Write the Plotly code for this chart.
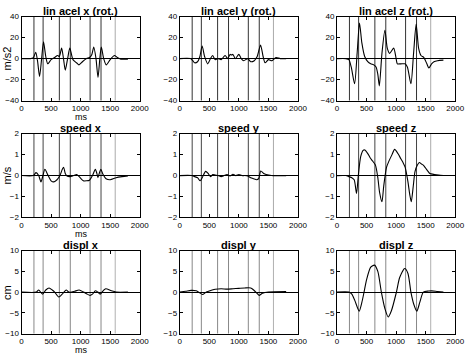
import plotly.graph_objects as go

W, H = 474, 358

# vertical event markers (ms)
event_ms = [210, 365, 640, 825, 1160, 1345, 1585]

titles = ["lin acel x (rot.)", "lin acel y (rot.)", "lin acel z (rot.)",
          "speed x", "speed y", "speed z",
          "displ x", "displ y", "displ z"]
row_units = ["m/s2", "m/s", "cm"]
x_ticks = [0, 500, 1000, 1500, 2000]
y_ticks_rows = [[-40, -20, 0, 20, 40], [-2, -1, 0, 1, 2], [-10, -5, 0, 5, 10]]

# --- acceleration ---
acx_t = [0, 150, 200, 240, 270, 305, 340, 372, 410, 445, 500, 560, 610, 640, 678, 710, 740, 780, 817, 870, 930, 972, 1030, 1100, 1150, 1190, 1222, 1260, 1294, 1325, 1350, 1390, 1433, 1500, 1572, 1620, 1680, 1750, 1800]
acx_v = [0, 0, 1, 6, -2, -17, 0, 16, 2, -5, -1, 1, 3, 2, 10, 0, -11, 0, 10, -1, -4, -6, -3, 0, 1, 4, 11, 0, -18, 0, 11, 0, -6, -1, 3, 1, -0.5, -0.5, -0.5]

acy_t = [0, 180, 220, 250, 300, 340, 378, 420, 472, 520, 555, 600, 650, 700, 767, 810, 850, 875, 900, 940, 1000, 1040, 1083, 1150, 1200, 1260, 1310, 1367, 1410, 1444, 1500, 1560, 1628, 1700, 1800]
acy_v = [0, 0, -2, -4, -3, 2, 12, 2, -5, 0, 3, -1, 0, -1, 3, 0, 4, 3.5, 4, 0, 4, 0, -2, 0, -3, -2, 2, 13, 2, -4, -1, -2, 1, 0, 0]

acz_t = [0, 150, 200, 240, 297, 340, 380, 420, 468, 520, 570, 620, 660, 690, 716, 760, 810, 850, 890, 958, 1000, 1020, 1080, 1150, 1190, 1250, 1295, 1339, 1380, 1420, 1470, 1520, 1554, 1600, 1640, 1700, 1800]
acz_v = [0, 0, -1, -8, -24, 5, 34, 15, 2, -3, -5, -6, -8, -15, -26, 5, 27, 10, 5, 10, 0, -5, -5, -5, -8, -24, 5, 33, 10, 3, 1, -5, -9, -5, -3, -2, -1.5]

# --- speed ---
spx_t = [0, 200, 246, 290, 329, 362, 395, 450, 500, 548, 600, 650, 690, 712, 740, 770, 820, 880, 935, 990, 1045, 1100, 1150, 1200, 1249, 1275, 1293, 1320, 1342, 1380, 1430, 1500, 1600, 1700, 1800]
spx_v = [0, 0, 0.14, 0, -0.3, 0, 0.3, 0, -0.25, -0.3, -0.2, 0, 0.3, 0.4, 0.1, -0.02, -0.05, 0.0, 0.05, -0.1, -0.25, -0.25, -0.22, 0, 0.3, 0.1, -0.1, 0.15, 0.3, 0.05, -0.15, -0.2, -0.1, -0.05, -0.02]

spy_t = [0, 200, 250, 300, 345, 380, 438, 480, 520, 560, 600, 650, 700, 750, 800, 850, 900, 950, 1000, 1050, 1100, 1150, 1200, 1250, 1300, 1335, 1370, 1420, 1460, 1550, 1650, 1800]
spy_v = [0, 0, -0.05, -0.1, -0.25, -0.1, 0.2, 0.1, -0.05, 0.05, 0.02, 0, -0.05, 0, 0.05, -0.02, 0.06, 0, 0.05, 0, 0, -0.02, -0.1, -0.15, -0.2, -0.15, 0.22, 0.1, 0.05, 0, 0, 0]

spz_t = [0, 150, 200, 250, 290, 330, 360, 400, 441, 470, 520, 560, 600, 650, 690, 720, 760, 790, 838, 880, 930, 975, 1030, 1080, 1120, 1152, 1200, 1230, 1256, 1290, 1320, 1360, 1394, 1430, 1460, 1500, 1540, 1570, 1650, 1720, 1800]
spz_v = [0, 0, -0.05, -0.1, -0.2, -0.85, 0, 0.9, 1.2, 1.22, 1.05, 0.85, 0.7, 0.5, -0.1, -0.8, -1.25, -0.5, 0.4, 0.7, 1.0, 1.25, 1.05, 0.8, 0.6, 0.4, -0.3, -0.9, -1.25, -0.5, 0.2, 0.5, 0.62, 0.55, 0.5, 0.35, 0.2, 0.1, 0.05, 0.02, 0]

# --- displacement ---
dpx_t = [0, 250, 290, 356, 410, 466, 520, 560, 630, 700, 756, 800, 850, 900, 975, 1050, 1100, 1160, 1200, 1250, 1290, 1330, 1380, 1425, 1520, 1600, 1800]
dpx_v = [0, 0, 0.5, -0.5, 0.5, 1.0, 0.5, 0, -1.2, -0.3, 0.5, 0, 0, 0.2, 0.5, 0, -0.4, -0.8, -0.5, 0.3, 0, -0.5, 0.3, 0.8, 0.3, 0, 0]

dpy_t = [0, 100, 192, 280, 330, 384, 450, 548, 600, 700, 800, 900, 1000, 1100, 1200, 1250, 1300, 1342, 1400, 1500, 1800]
dpy_v = [0, 0.2, 0.4, 0.3, -0.1, -0.6, 0, 0.5, 0.7, 0.8, 0.7, 0.8, 0.9, 1.0, 1.0, 0.5, -0.2, -0.8, -0.3, 0, 0.1]

dpz_t = [0, 200, 250, 300, 375, 420, 457, 500, 570, 634, 690, 750, 810, 865, 920, 1005, 1060, 1146, 1200, 1250, 1300, 1350, 1400, 1460, 1550, 1600, 1700, 1800]
dpz_v = [0, 0, -0.5, -2, -4.6, -2.5, 0, 3, 6, 6.5, 5, 0, -4, -6, -4.5, 0, 3.5, 5.7, 4.5, 0, -3, -4.6, -2.5, 0, 0.25, 0.3, 0.15, 0]

series = [(acx_t, acx_v), (acy_t, acy_v), (acz_t, acz_v),
          (spx_t, spx_v), (spy_t, spy_v), (spz_t, spz_v),
          (dpx_t, dpx_v), (dpy_t, dpy_v), (dpz_t, dpz_v)]

col_px = [(20, 141), (182, 303), (343, 464)]
row_px = [(13, 99), (133, 219), (253, 338)]

fig = go.Figure()
layout = dict(width=W, height=H, margin=dict(l=0, r=0, t=0, b=0),
              paper_bgcolor="white", plot_bgcolor="white", showlegend=False,
              font=dict(family="Liberation Sans, Arial, sans-serif", size=8, color="black"))
shapes = []
annotations = []
line_colors_by_row = [("#333333", "#aaaaaa"), ("#444444", "#aaaaaa"), ("#888888", "#b0b0b0")]

for r in range(3):
    for c in range(3):
        i = r * 3 + c
        n = "" if i == 0 else str(i + 1)
        x0, x1 = col_px[c]
        y0, y1 = row_px[r]
        xd = [x0 / W, x1 / W]
        yd = [1 - y1 / H, 1 - y0 / H]
        t, v = series[i]
        fig.add_trace(go.Scatter(x=t, y=v, mode="lines", xaxis="x" + n, yaxis="y" + n,
                                 line=dict(color="black", width=1.1, shape="spline", smoothing=0.7),
                                 hoverinfo="skip"))
        yt = y_ticks_rows[r]
        layout["xaxis" + n] = dict(domain=xd, anchor="y" + n, range=[0, 2000], tickvals=x_ticks,
                                   ticks="inside", ticklen=3, tickcolor="black", showline=True,
                                   linecolor="black", linewidth=1, mirror="ticks", showgrid=False,
                                   zeroline=False, tickfont=dict(size=8))
        layout["yaxis" + n] = dict(domain=yd, anchor="x" + n, range=[yt[0], yt[-1]], tickvals=yt,
                                   ticks="inside", ticklen=3, tickcolor="black", showline=True,
                                   linecolor="black", linewidth=1, mirror="ticks", showgrid=False,
                                   zeroline=True, zerolinecolor="black", zerolinewidth=1,
                                   tickfont=dict(size=8))
        dark, light = line_colors_by_row[r]
        for k, e in enumerate(event_ms):
            shapes.append(dict(type="line", xref="x" + n, yref="y" + n + " domain",
                               x0=e, x1=e, y0=0, y1=1, layer="below",
                               line=dict(color=light if k == len(event_ms) - 1 else dark, width=1)))
        annotations.append(dict(text="<b>" + titles[i] + "</b>", xref="paper", yref="paper",
                                x=(x0 + x1) / 2 / W, y=1 - (y0 + 1) / H, showarrow=False,
                                xanchor="center", yanchor="bottom", borderpad=0,
                                font=dict(size=11)))
    # row y label and x label in first column
    x0, x1 = col_px[0]
    y0, y1 = row_px[r]
    annotations.append(dict(text=row_units[r], xref="paper", yref="paper", x=5 / W,
                            y=1 - (y0 + y1) / 2 / H, showarrow=False, textangle=-90,
                            xanchor="center", yanchor="middle", font=dict(size=11)))
    annotations.append(dict(text="ms", xref="paper", yref="paper", x=(x0 + x1) / 2 / W,
                            y=1 - (y1 + 10.5) / H, showarrow=False, xanchor="center",
                            yanchor="top", borderpad=0, font=dict(size=9)))

layout["shapes"] = shapes
layout["annotations"] = annotations
fig.update_layout(**layout)
fig.write_html("out.html")
